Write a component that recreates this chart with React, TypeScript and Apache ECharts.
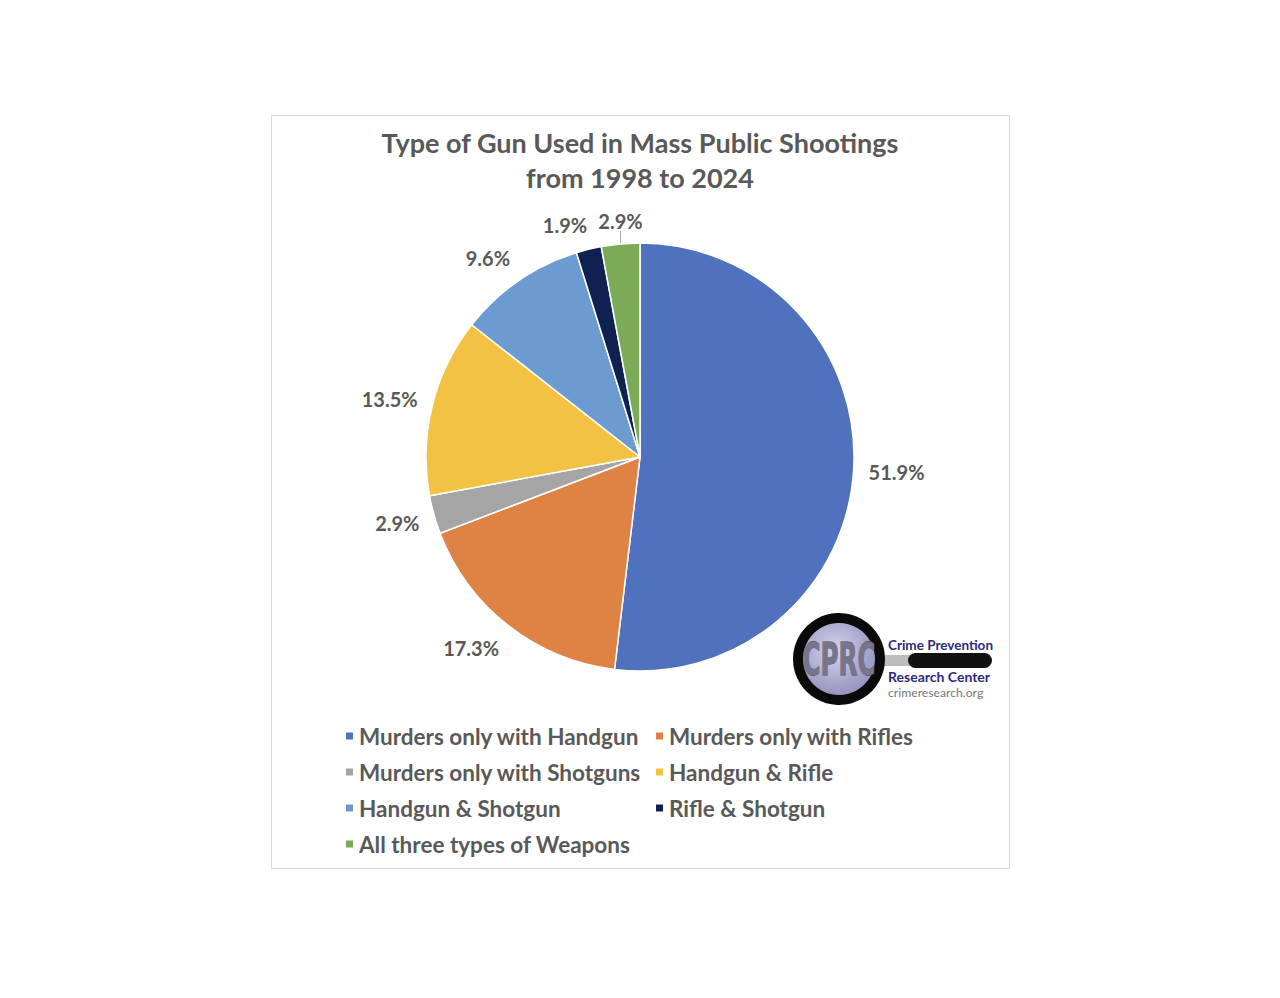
import React, { useEffect, useRef } from "react";
import * as echarts from "echarts";

const categories = [
  "Murders only with Handgun",
  "Murders only with Rifles",
  "Murders only with Shotguns",
  "Handgun & Rifle",
  "Handgun & Shotgun",
  "Rifle & Shotgun",
  "All three types of Weapons",
];
const values = [51.9, 17.3, 2.9, 13.5, 9.6, 1.9, 2.9];
const colors = ["#4F71BE", "#DF8344", "#A5A5A5", "#F3C243", "#6B9BD1", "#0F2150", "#7BAB56"];
const legendLeft = [categories[0], categories[2], categories[4], categories[6]];
const legendRight = [categories[1], categories[3], categories[5]];
const titleText = "Type of Gun Used in Mass Public Shootings\nfrom 1998 to 2024";
const leaderIndex = 6; // label drawn with a leader line

const FONT = "Lato, 'Open Sans', sans-serif";
const TXT = "#595959";
const CX = 640;
const CY = 457;
const R = 214;

export default function App() {
  const ref = useRef<HTMLDivElement>(null);
  useEffect(() => {
    if (!ref.current) return;
    const chart = echarts.init(ref.current, null, { renderer: "svg" });
    const total = values.reduce((a, b) => a + b, 0);
    const data = categories.map((name, i) => ({
      name,
      value: values[i],
      itemStyle: { color: colors[i] },
      labelLine:
        i === leaderIndex
          ? { show: true, length: 10, length2: 2, lineStyle: { color: "#A6A6A6", width: 1 } }
          : { show: false },
    }));
    const clamp = (v: number) => Math.max(-1, Math.min(1, v));
    const labelLayout = (params: any) => {
      const i = params.dataIndex;
      let before = 0;
      for (let k = 0; k < i; k++) before += values[k];
      const theta = ((before + values[i] / 2) / total) * Math.PI * 2;
      const ux = Math.sin(theta);
      const uy = -Math.cos(theta);
      const ex = CX + R * ux;
      const ey = CY + R * uy;
      const w = params.labelRect.width;
      const h = params.labelRect.height;
      if (i === leaderIndex) {
        return { x: ex, y: ey - 13 - h / 2, align: "center", verticalAlign: "middle" };
      }
      const g = 15;
      const x = ex + ux * g + clamp(ux * 3.8) * (w / 2);
      const y = ey + uy * g + clamp(uy * 1.5) * (h / 2);
      return { x, y, align: "center", verticalAlign: "middle" };
    };
    const legendCommon = {
      orient: "vertical" as const,
      icon: "rect",
      itemWidth: 9,
      itemHeight: 9,
      itemGap: 12,
      selectedMode: false,
      textStyle: {
        fontFamily: FONT,
        fontSize: 22.5,
        fontWeight: "bold",
        color: TXT,
        lineHeight: 24,
      },
    };
    chart.setOption({
      animation: false,
      backgroundColor: "#ffffff",
      title: {
        text: titleText,
        left: "center",
        top: 120,
        textStyle: { fontFamily: FONT, fontSize: 27, fontWeight: "bold", color: TXT, lineHeight: 35 },
      },
      legend: [
        { ...legendCommon, left: 339, top: 719, data: legendLeft },
        { ...legendCommon, left: 649, top: 719, data: legendRight },
      ],
      series: [
        {
          type: "pie",
          center: [CX, CY],
          radius: R,
          startAngle: 90,
          clockwise: true,
          avoidLabelOverlap: false,
          itemStyle: { borderColor: "#ffffff", borderWidth: 1.5 },
          label: {
            show: true,
            position: "outside",
            formatter: "{c}%",
            fontFamily: FONT,
            fontSize: 20,
            fontWeight: "bold",
            color: TXT,
          },
          labelLine: { length: 10, length2: 2 },
          labelLayout,
          data,
        },
      ],
      graphic: [
        {
          type: "rect",
          shape: { x: 271.5, y: 115.5, width: 738, height: 753 },
          style: { fill: "none", stroke: "#D9D9D9", lineWidth: 1 },
          silent: true,
        },
        // logo handle
        {
          type: "rect",
          shape: { x: 880, y: 655.5, width: 32, height: 10 },
          style: { fill: "#BDBDBD", stroke: "#9A9A9A", lineWidth: 0.5 },
        },
        {
          type: "rect",
          shape: { x: 908, y: 653, width: 84, height: 15, r: 7.5 },
          style: { fill: "#111111" },
        },
        {
          type: "circle",
          shape: { cx: 839, cy: 659, r: 41 },
          style: {
            fill: {
              type: "radial",
              x: 0.45,
              y: 0.4,
              r: 0.6,
              colorStops: [
                { offset: 0, color: "#D6D4EE" },
                { offset: 1, color: "#8F8CBA" },
              ],
            },
            stroke: "#0A0A0A",
            lineWidth: 10,
          },
        },
        {
          type: "text",
          x: 839,
          y: 660,
          scaleX: 0.62,
          style: {
            text: "CPRC",
            fontFamily: "'Liberation Sans Narrow', 'DejaVu Sans Condensed', sans-serif",
            fontSize: 44,
            fontWeight: "bold",
            fill: "#77758A",
            stroke: "#4A4860",
            lineWidth: 0.8,
            align: "center",
            verticalAlign: "middle",
          },
        },
        {
          type: "text",
          x: 888,
          y: 645,
          style: {
            text: "Crime Prevention",
            fontFamily: FONT,
            fontSize: 13.5,
            fontWeight: "bold",
            fill: "#2C2A7C",
            align: "left",
            verticalAlign: "middle",
          },
        },
        {
          type: "text",
          x: 888,
          y: 676,
          style: {
            text: "Research Center",
            fontFamily: FONT,
            fontSize: 14,
            fontWeight: "bold",
            fill: "#2C2A7C",
            align: "left",
            verticalAlign: "middle",
          },
        },
        {
          type: "text",
          x: 888,
          y: 692,
          style: {
            text: "crimeresearch.org",
            fontFamily: FONT,
            fontSize: 12.2,
            fill: "#777777",
            align: "left",
            verticalAlign: "middle",
          },
        },
      ],
    });
    return () => chart.dispose();
  }, []);
  return (
    <div
      ref={ref}
      style={{ position: "absolute", left: 0, top: 0, width: 1280, height: 998 }}
    />
  );
}
